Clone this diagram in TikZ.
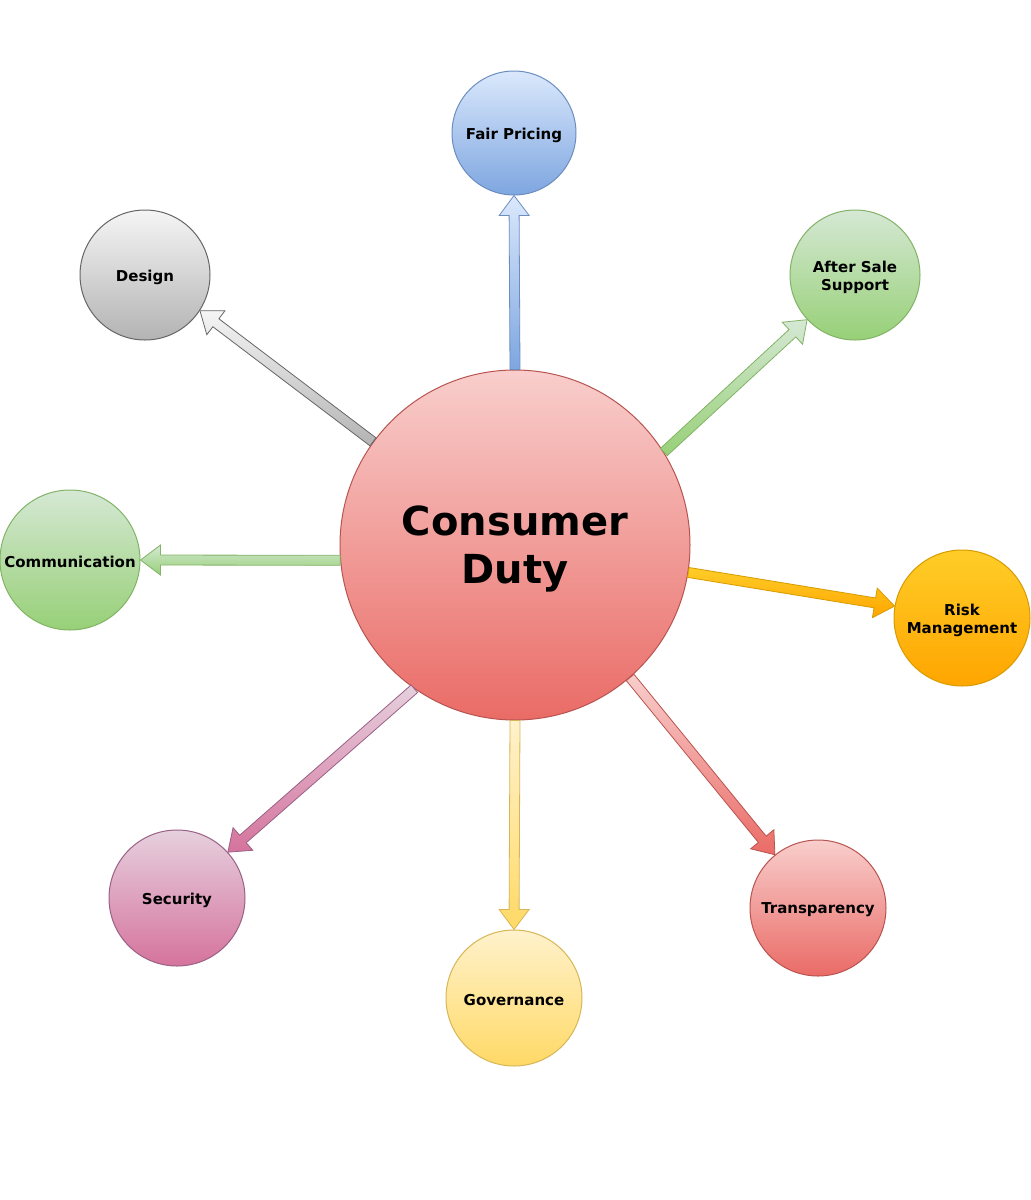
\documentclass[tikz,border=0pt]{standalone}
\usepackage{fontspec}
\setmainfont{DejaVu Sans}
\usetikzlibrary{calc}
\definecolor{redT}{HTML}{F8CECC}\definecolor{redB}{HTML}{EA6B66}\definecolor{redS}{HTML}{B85450}
\definecolor{bluT}{HTML}{DAE8FC}\definecolor{bluB}{HTML}{7EA6E0}\definecolor{bluS}{HTML}{6C8EBF}
\definecolor{gryT}{HTML}{F5F5F5}\definecolor{gryB}{HTML}{B3B3B3}\definecolor{gryS}{HTML}{666666}
\definecolor{grnT}{HTML}{D5E8D4}\definecolor{grnB}{HTML}{97D077}\definecolor{grnS}{HTML}{82B366}
\definecolor{orgT}{HTML}{FFCD28}\definecolor{orgB}{HTML}{FFA500}\definecolor{orgS}{HTML}{D79B00}
\definecolor{pnkT}{HTML}{E6D0DE}\definecolor{pnkB}{HTML}{D5739D}\definecolor{pnkS}{HTML}{996185}
\definecolor{ylwT}{HTML}{FFF2CC}\definecolor{ylwB}{HTML}{FFD966}\definecolor{ylwS}{HTML}{D6B656}
\tikzset{
  topic/.style={circle, inner sep=0pt, line width=1pt},
  lbl/.style={inner sep=0pt, align=center, font=\bfseries\fontsize{15}{18}\selectfont},
  redfill/.style={top color=redT, bottom color=redB, draw=redS},
  blufill/.style={top color=bluT, bottom color=bluB, draw=bluS},
  gryfill/.style={top color=gryT, bottom color=gryB, draw=gryS},
  grnfill/.style={top color=grnT, bottom color=grnB, draw=grnS},
  orgfill/.style={top color=orgT, bottom color=orgB, draw=orgS},
  pnkfill/.style={top color=pnkT, bottom color=pnkB, draw=pnkS},
  ylwfill/.style={top color=ylwT, bottom color=ylwB, draw=ylwS},
  arrowbody/.style={line width=0.8pt, line join=miter},
}
\newcommand\flexarr[3]{%
  \coordinate (t) at #1; \coordinate (p) at #2;
  \coordinate (h) at ($(p)!20pt!(t)$);
  \path[arrowbody,#3] ($(t)!5pt!90:(p)$) -- ($(h)!5pt!90:(p)$) -- ($(h)!15pt!90:(p)$)
    -- (p) -- ($(h)!15pt!-90:(p)$) -- ($(h)!5pt!-90:(p)$) -- ($(t)!5pt!-90:(p)$) -- cycle;
}
\begin{document}
\begin{tikzpicture}[x=1pt,y=-1pt]
\useasboundingbox (0,0) rectangle (1031,1200);
\node[topic, redfill, minimum size=350pt] (cd) at (515,545) {};
\node[topic, blufill, minimum size=124pt] (fp) at (514,133) {};
\node[topic, gryfill, minimum size=130pt] (ds) at (145,275) {};
\node[topic, grnfill, minimum size=130pt] (as) at (855,275) {};
\node[topic, grnfill, minimum size=140pt] (cm) at (70,560) {};
\node[topic, orgfill, minimum size=136pt] (rk) at (962,618) {};
\node[topic, pnkfill, minimum size=136pt] (sc) at (177,898) {};
\node[topic, ylwfill, minimum size=136pt] (gv) at (514,998) {};
\node[topic, redfill, minimum size=136pt] (tr) at (818,908) {};
\node[lbl, font=\bfseries\fontsize{40}{48}\selectfont] (cdt) at ([yshift=-4pt]cd.center) {Consumer\\Duty};
\node[lbl] (fpt) at ([yshift=-2pt]fp.center) {Fair Pricing};
\node[lbl] (dst) at ([yshift=-2pt]ds.center) {Design};
\node[lbl] (ast) at ([yshift=-2pt]as.center) {After Sale\\Support};
\node[lbl] (cmt) at ([yshift=-2pt]cm.center) {Communication};
\node[lbl] (rkt) at ([yshift=-2pt]rk.center) {Risk\\Management};
\node[lbl] (sct) at ([yshift=-2pt]sc.center) {Security};
\node[lbl] (gvt) at ([yshift=-2pt]gv.center) {Governance};
\node[lbl] (trt) at ([yshift=-2pt]tr.center) {Transparency};
\flexarr{(cd.90)}{(fp.270)}{blufill}
\flexarr{(cd.144)}{(ds.-33)}{gryfill}
\flexarr{(cd.32)}{(as.223)}{grnfill}
\flexarr{(cd.185)}{(cm.0)}{grnfill}
\flexarr{(cd.-9)}{(rk.170)}{orgfill}
\flexarr{(cd.235.6)}{(sc.42)}{pnkfill}
\flexarr{(cd.270)}{(gv.90)}{ylwfill}
\flexarr{(cd.-49.6)}{(tr.129)}{redfill}
\end{tikzpicture}
\end{document}
